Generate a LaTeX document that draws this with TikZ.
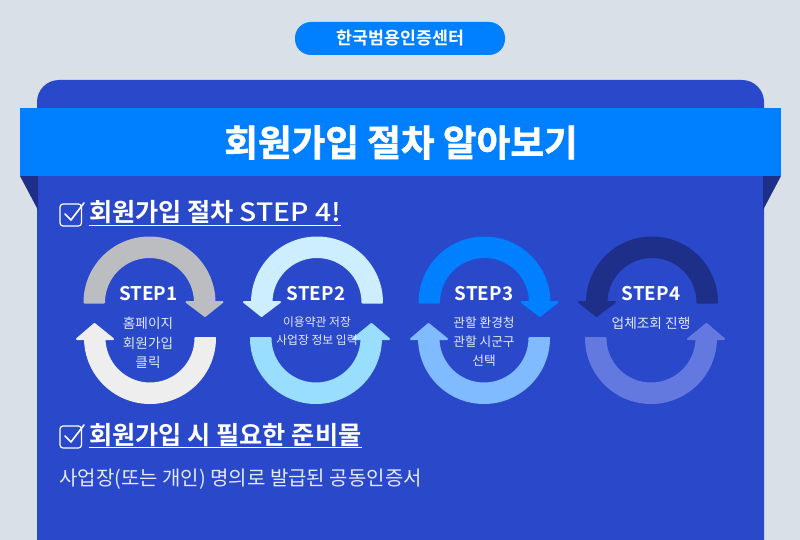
\documentclass[tikz,border=0pt]{standalone}
\usepackage{fontspec}
\setmainfont{Noto Sans CJK KR}
\newfontfamily\krbold[FakeBold=1.6]{Noto Sans CJK KR Bold}
\newfontfamily\krhead{Noto Sans CJK KR Bold}
\newfontfamily\krwide[FakeStretch=1.12]{Noto Sans CJK KR Medium}
\usetikzlibrary{calc}
\definecolor{bgc}{HTML}{DAE0E8}
\definecolor{cardc}{HTML}{2948CA}
\definecolor{ribbonc}{HTML}{0080FF}
\definecolor{foldc}{HTML}{1E2F8A}
\definecolor{textc}{HTML}{E4EAF8}
\definecolor{sa}{HTML}{BBBDC0}
\definecolor{sb}{HTML}{EEEEEE}
\definecolor{sc}{HTML}{CCEEFF}
\definecolor{sd}{HTML}{99DDFF}
\definecolor{se}{HTML}{0080FF}
\definecolor{sf}{HTML}{80BBFF}
\definecolor{sg}{HTML}{1E2F8A}
\definecolor{sh}{HTML}{6379E0}
\tikzset{
  x=1pt,y=-1pt,
  bodytext/.style={text=textc,align=center,inner sep=0pt,anchor=north},
  steptext/.style={text=white,font=\krhead\fontsize{18.8}{22}\selectfont,inner sep=0pt},
  headtext/.style={text=white,font=\krhead\fontsize{25.2}{28}\selectfont,inner sep=0pt,anchor=base west},
  ringpart/.style={draw=#1,fill=#1,line width=2pt,line join=round},
  checkline/.style={draw=white,line width=1.6pt,line join=round,line cap=round},
}
% top arc with head: cx, head direction (+1 right, -1 left), colour
\newcommand{\toparc}[3]{%
  \path[ringpart=#3] (#1-65,302.5) arc[start angle=180,end angle=0,radius=65pt]
     -- (#1+45.5,302.5) arc[start angle=0,end angle=180,radius=45.5pt] -- cycle;
  \path[ringpart=#3] (#1+#2*37,302) -- (#1+#2*73,302) -- (#1+#2*55.5,316) -- cycle;
}
\newcommand{\botarc}[3]{%
  \path[ringpart=#3] (#1-65,338) arc[start angle=180,end angle=360,radius=65pt]
     -- (#1+45.5,338) arc[start angle=0,end angle=-180,radius=45.5pt] -- cycle;
  \path[ringpart=#3] (#1+#2*37,339) -- (#1+#2*73,339) -- (#1+#2*55.5,324) -- cycle;
}
\newcommand{\checkicon}[2]{%
  \draw[draw=white,line width=1.2pt,rounded corners=3pt] (#1,#2+1) rectangle ++(21.5,22);
  \draw[checkline] (#1+5,#2+11) -- (#1+11,#2+17) -- (#1+24,#2);
}
\begin{document}
\begin{tikzpicture}
\useasboundingbox (0,0) rectangle (800,540);
\fill[bgc] (0,0) rectangle (800,540);
\fill[ribbonc,rounded corners=16pt] (295,22) rectangle (505,55);
\node[text=white,font=\krhead\fontsize{17.3}{20}\selectfont,inner sep=0pt] (org) at (400.5,38) {한국범용인증센터};
\fill[cardc] (37,540) -- (37,102) arc[start angle=180,end angle=90,radius=22pt] -- (742,80) arc[start angle=90,end angle=0,radius=22pt] -- (764,540) -- cycle;
\fill[foldc] (20,176) -- (38,176) -- (38,210) -- cycle;
\fill[foldc] (781,176) -- (763,176) -- (763,210) -- cycle;
\fill[ribbonc] (20,108) rectangle (781,176);
\node[text=white,font=\krbold\fontsize{36.6}{40}\selectfont,inner sep=0pt] (title) at (401,142.5) {회원가입 절차 알아보기};

\checkicon{60}{203}
\node[headtext] (h1) at (89,222) {회원가입 절차 {\krwide\fontsize{25.2}{28}\selectfont STEP 4!}};
\draw[white,line width=1.2pt] ($(h1.base west)+(0,3.5)$) -- ($(h1.base east)+(0,3.5)$);

\toparc{149.5}{1}{sa}
\botarc{150}{-1}{sb}
\toparc{317}{-1}{sc}
\botarc{316}{1}{sd}
\toparc{484.5}{1}{se}
\botarc{484}{-1}{sf}
\toparc{652}{-1}{sg}
\botarc{651}{1}{sh}

\node[steptext] (s1) at (148.5,294) {STEP1};
\node[steptext] (s2) at (316,294) {STEP2};
\node[steptext] (s3) at (484,294) {STEP3};
\node[steptext] (s4) at (651,294) {STEP4};
\node[bodytext,font=\fontsize{13.6}{19.5}\selectfont] (t1) at (148,317) {홈페이지\\회원가입\\클릭};
\node[bodytext,font=\fontsize{11.8}{18}\selectfont] (t2) at (317,317) {이용약관 저장\\사업장 정보 입력};
\node[bodytext,font=\fontsize{12.7}{18.7}\selectfont] (t3) at (484,317) {관할 환경청\\관할 시군구\\선택};
\node[bodytext,font=\fontsize{13.7}{19}\selectfont] (t4) at (651,317) {업체조회 진행};

\checkicon{60}{425}
\node[headtext] (h2) at (89,444) {회원가입 시 필요한 준비물};
\draw[white,line width=1.2pt] ($(h2.base west)+(0,3.5)$) -- ($(h2.base east)+(0,3.5)$);
\node[text=textc,font=\fontsize{20}{24}\selectfont,inner sep=0pt,anchor=base west] (need) at (59,485) {사업장(또는 개인) 명의로 발급된 공동인증서};
\end{tikzpicture}
\end{document}
